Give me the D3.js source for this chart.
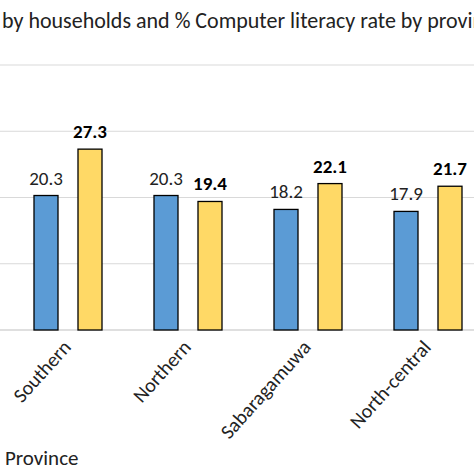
<!DOCTYPE html><html><head><meta charset="utf-8">
<script src="https://cdn.jsdelivr.net/npm/d3@7"></script>
<style>body{margin:0;background:#fff}</style></head><body>
<svg id="c" width="474" height="474"></svg>
<script>
const categories=["Southern","Northern","Sabaragamuwa","North-central"];
const ownership=[20.3,20.3,18.2,17.9];
const literacy=[27.3,19.4,22.1,21.7];
const ticks=[0,10,20,30,40];
const svg=d3.select("#c");
const font="Calibri, Carlito, 'Liberation Sans', Arial, sans-serif";
const x=d3.scaleBand().domain(categories).range([8,488]);
const y=d3.scaleLinear().domain([0,40]).range([330,65]);
svg.append("text").attr("x",2).attr("y",28).attr("font-family",font).attr("font-size",22).attr("fill","#222")
 .text("by households and % Computer literacy rate by province");
svg.selectAll(".g").data(ticks.slice(1)).join("line").attr("x1",0).attr("x2",474)
 .attr("y1",d=>y(d)).attr("y2",d=>y(d)).attr("stroke","#d9d9d9").attr("stroke-width",1);
svg.append("line").attr("x1",0).attr("x2",474).attr("y1",y(0)).attr("y2",y(0)).attr("stroke","#bfbfbf");
const cx=c=>x(c)+x.bandwidth()/2;
categories.forEach((c,i)=>{
 const g=svg.append("g");
 g.append("rect").attr("x",cx(c)-34).attr("width",24).attr("y",y(ownership[i])).attr("height",y(0)-y(ownership[i]))
  .attr("fill","#5B9BD5").attr("stroke","#000").attr("stroke-width",1.3);
 g.append("rect").attr("x",cx(c)+10).attr("width",24).attr("y",y(literacy[i])).attr("height",y(0)-y(literacy[i]))
  .attr("fill","#FFD966").attr("stroke","#000").attr("stroke-width",1.3);
 g.append("text").attr("x",cx(c)-22).attr("y",y(ownership[i])-11).attr("text-anchor","middle").attr("font-family",font)
  .attr("font-size",19).attr("fill","#222").text(ownership[i].toFixed(1));
 g.append("text").attr("x",cx(c)+22).attr("y",y(literacy[i])-11).attr("text-anchor","middle").attr("font-family",font)
  .attr("font-size",19).attr("font-weight","bold").attr("fill","#000").text(literacy[i].toFixed(1));
 g.append("text").attr("transform",`translate(${cx(c)+4},${348}) rotate(-48)`).attr("text-anchor","end")
  .attr("font-family",font).attr("font-size",20).attr("fill","#222").text(c);
});
svg.append("text").attr("x",5).attr("y",465).attr("font-family",font).attr("font-size",21).attr("fill","#222").text("Province");
</script></body></html>
